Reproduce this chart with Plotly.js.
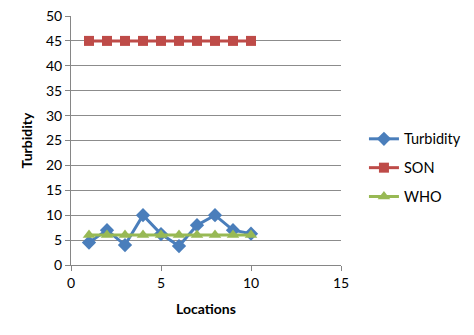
<!DOCTYPE html>
<html>
<head>
<meta charset="utf-8">
<script src="https://cdn.plot.ly/plotly-3.0.1.min.js"></script>
<style>html,body{margin:0;padding:0;background:#fff;}#chart{width:474px;height:335px;}</style>
</head>
<body>
<div id="chart"></div>
<script>
const locations = [1, 2, 3, 4, 5, 6, 7, 8, 9, 10];
const turbidity = [4.5, 7, 4, 10, 6.2, 3.8, 8, 10, 7, 6.3];
const son = [45, 45, 45, 45, 45, 45, 45, 45, 45, 45];
const who = [6, 6, 6, 6, 6, 6, 6, 6, 6, 6];
const xTicks = [0, 5, 10, 15];
const yTicks = [0, 5, 10, 15, 20, 25, 30, 35, 40, 45, 50];

const font = 'Lato, "Open Sans", sans-serif';
const traces = [
  {x: locations, y: turbidity, name: 'Turbidity', mode: 'lines+markers', legendgroup: 'a',
   line: {color: '#4A7EBB', width: 3}, marker: {symbol: 'diamond', size: 11, color: '#4A7EBB'}},
  {x: locations, y: son, name: 'SON', mode: 'lines+markers', legendgroup: 'b',
   line: {color: '#BE4B48', width: 3}, marker: {symbol: 'square', size: 10, color: '#BE4B48'}},
  {x: locations, y: who, name: 'WHO', mode: 'lines+markers', legendgroup: 'c',
   line: {color: '#98B954', width: 3}, marker: {symbol: 'triangle-up', size: 11, color: '#98B954'}}
];
const layout = {
  width: 474, height: 335,
  margin: {l: 71, r: 133, t: 16, b: 70, autoexpand: false},
  paper_bgcolor: '#fff', plot_bgcolor: '#fff',
  font: {family: font, size: 14, color: '#000'},
  showlegend: true,
  legend: {x: 1.085, xanchor: 'left', y: 0.39, yanchor: 'middle', traceorder: 'grouped',
    tracegroupgap: 7, font: {family: font, size: 14.5, color: '#000'}, bgcolor: 'rgba(0,0,0,0)'},
  xaxis: {range: [0, 15], tickvals: xTicks, ticktext: xTicks.map(String), showgrid: false, zeroline: false,
    showline: true, linecolor: '#868686', linewidth: 1, ticks: 'outside', ticklen: 5, tickcolor: '#868686',
    tickfont: {family: font, size: 14}, title: {text: '<b>Locations</b>', font: {family: font, size: 14}, standoff: 14}},
  yaxis: {range: [0, 50], tickvals: yTicks, ticktext: yTicks.map(String), showgrid: true, gridcolor: '#8c8c8c', gridwidth: 1,
    zeroline: false, showline: true, linecolor: '#868686', linewidth: 1, ticks: 'outside', ticklen: 5, tickcolor: '#868686',
    tickfont: {family: font, size: 14}, title: {text: '<b>Turbidity</b>', font: {family: font, size: 14}, standoff: 10}}
};
Plotly.newPlot('chart', traces, layout, {displayModeBar: false, staticPlot: true});
</script>
</body>
</html>
